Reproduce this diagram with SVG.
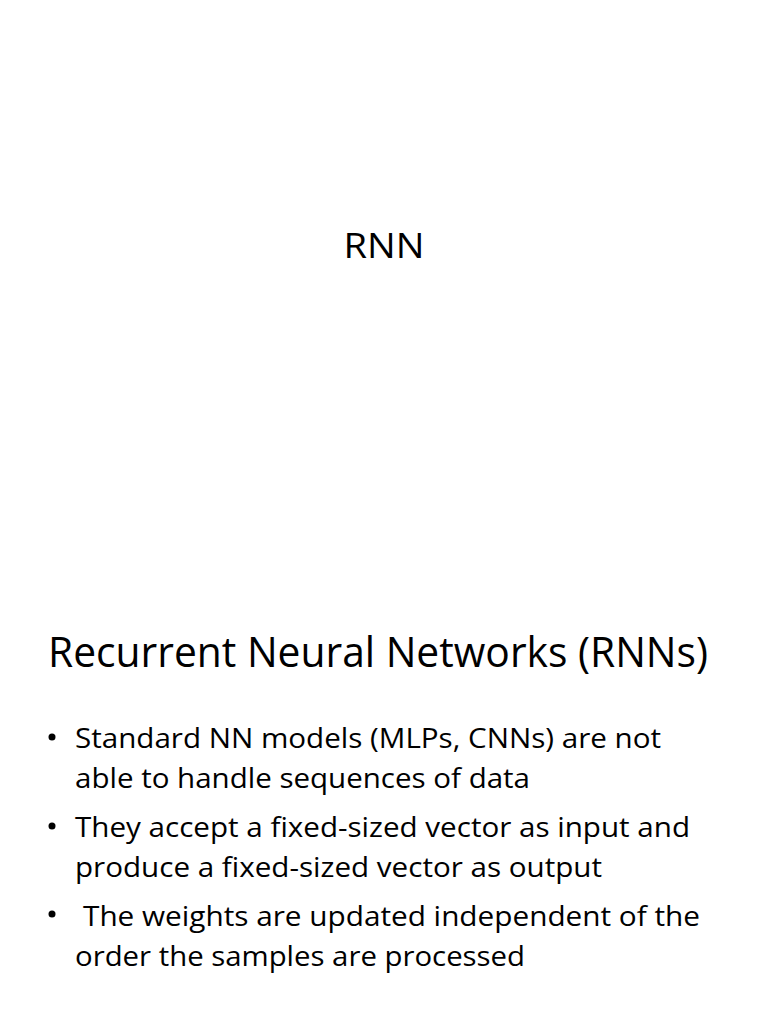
<svg xmlns="http://www.w3.org/2000/svg" width="768" height="1024" viewBox="0 0 768 1024">
<style>
text{font-family:"Open Sans","Liberation Sans",sans-serif;fill:#000}
.t1{font-size:35px}
.t2{font-size:42px}
.b{font-size:28px}
</style>
<rect width="768" height="1024" fill="#fff"/>
<g id="slide1">
<text class="t1" x="384" y="258" text-anchor="middle" textLength="81" lengthAdjust="spacingAndGlyphs">RNN</text>
</g>
<g id="slide2">
<text class="t2" x="48" y="667" textLength="660" lengthAdjust="spacingAndGlyphs">Recurrent Neural Networks (RNNs)</text>
<g id="bullets">
<circle cx="52" cy="737" r="3.5"/>
<circle cx="52" cy="826" r="3.5"/>
<circle cx="52" cy="914" r="3.5"/>
<text class="b" x="75" y="748" textLength="586" lengthAdjust="spacingAndGlyphs">Standard NN models (MLPs, CNNs) are not</text>
<text class="b" x="75" y="788" textLength="455" lengthAdjust="spacingAndGlyphs">able to handle sequences of data</text>
<text class="b" x="75" y="837" textLength="615" lengthAdjust="spacingAndGlyphs">They accept a fixed-sized vector as input and</text>
<text class="b" x="75" y="877" textLength="527" lengthAdjust="spacingAndGlyphs">produce a fixed-sized vector as output</text>
<text class="b" x="83" y="926" textLength="617" lengthAdjust="spacingAndGlyphs">The weights are updated independent of the</text>
<text class="b" x="75" y="966" textLength="450" lengthAdjust="spacingAndGlyphs">order the samples are processed</text>
</g>
</g>
</svg>
